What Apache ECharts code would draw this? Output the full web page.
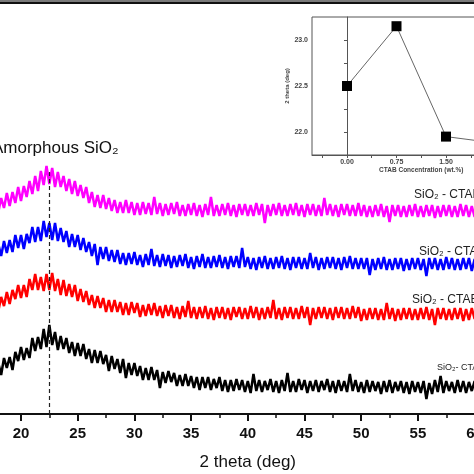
<!DOCTYPE html>
<html><head><meta charset="utf-8">
<script src="https://cdn.jsdelivr.net/npm/echarts@6/dist/echarts.min.js"></script>
<style>html,body{margin:0;padding:0;background:#fff}#c{width:474px;height:474px}</style>
</head><body><div id="c"></div>
<script>
// 2-theta sampling of the XRD traces (degrees)
const thetaStart = 18, thetaStep = 0.25;
// Intensities (arbitrary units, stacked offsets as in the figure)
const blackTrace = [51,39,56,46,57,44,62,53, 67,54,66,56,76,63,77,65, 85,67,89,69,82,64,78,65, 76,61,72,58,71,58,70,55, 65,51,64,51,63,50,59,43, 58,45,55,41,55,36,51,39, 51,38,48,34,46,34,47,34, 44,26,42,31,43,32,41,28, 39,28,40,28,38,26,37,24, 37,26,37,24,35,26,37,23, 34,22,34,23,35,24,34,22, 33,21,40,23,34,22,33,24, 35,22,33,21,34,23,41,22, 33,22,35,24,34,21,33,23, 34,22,33,24,35,22,33,21, 34,23,33,22,40,23,34,22, 32,21,34,22,33,23,32,20, 33,22,34,21,32,23,33,21, 32,20,33,22,32,21,33,15, 31,20,34,22,38,21,33,23, 32,21,34,22,33,21,32,23, 33,21,32,22,33];
const redTrace = [103,117,108,122,110,124,115,129, 116,129,117,135,124,140,124,137, 123,140,124,141,123,135,119,134, 118,130,117,129,113,125,112,123, 109,119,106,118,106,116,102,114, 102,114,102,112,99,111,99,112, 101,111,97,109,98,110,99,111, 98,108,96,109,98,109,96,107, 95,108,97,113,96,107,95,107, 96,108,95,106,94,107,96,107, 95,106,94,107,97,107,95,106, 95,108,96,107,94,106,95,107, 96,114,95,106,94,107,96,107, 95,106,95,108,96,107,89,106, 95,107,96,107,95,106,94,107, 96,107,95,106,95,108,96,107, 93,105,94,106,95,106,94,105, 94,111,95,106,93,105,94,106, 95,106,94,105,94,106,95,107, 94,105,89,106,95,106,94,105, 94,106,95,106,93,105,94,106, 95,106,94,105,94];
const blueTrace = [170,158,173,161,174,162,179,166, 179,165,180,171,187,172,187,173, 193,177,191,174,191,173,186,172, 183,167,180,167,179,164,176,162, 172,158,170,149,167,155,167,153, 164,152,164,150,161,149,161,150, 162,149,159,147,160,149,165,148, 159,147,160,148,159,146,158,147, 159,148,160,146,157,145,158,147, 160,146,157,146,158,147,159,146, 157,145,158,147,158,146,166,147, 157,145,156,144,157,146,158,145, 156,145,157,146,158,145,156,144, 157,146,157,145,156,145,161,146, 157,144,156,145,157,146,157,145, 156,144,157,146,158,145,156,145, 156,145,156,139,155,144,156,145, 157,144,155,144,156,145,156,143, 155,144,156,145,156,144,155,138, 156,145,156,144,155,144,157,145, 156,144,155,144,156,145,156,143, 155,144,156,145,156];
const magentaTrace = [202,216,206,221,208,222,211,227, 213,228,217,233,220,238,223,243, 229,248,230,246,227,242,227,238, 223,235,220,233,218,229,216,227, 211,222,207,219,206,219,205,216, 203,214,201,212,201,214,201,212, 199,211,199,212,200,211,199,217, 200,211,198,210,199,211,200,212, 198,209,198,210,199,211,198,209, 197,210,199,217,198,209,198,210, 199,211,198,209,197,210,199,210, 198,209,198,211,199,210,191,209, 198,210,199,211,198,209,198,210, 199,211,198,209,197,210,199,210, 198,209,198,216,199,210,198,209, 197,210,199,210,198,209,198,211, 198,209,197,208,197,209,198,210, 197,208,192,209,198,209,197,208, 197,209,198,210,197,208,197,209, 198,209,196,208,197,209,198,209, 197,208,197,210,198,209,197,208, 197,209,198,209,197];
const peakTheta = 22.5, dashTop = 242;
// Inset
const ctabConc = [0, 0.75, 1.5, 2.25];
const peakPos = [22.5, 23.15, 21.95, 21.88];
const insetXLabels = [0, 0.75, 1.5, 2.25];
const insetXTicks = [-0.375, 0, 0.375, 0.75, 1.125, 1.5, 1.875, 2.25, 2.625];
const insetYLabels = [22.0, 22.5, 23.0];
const insetYTicks = [22.0, 22.25, 22.5, 22.75, 23.0];

const FF = '"Liberation Sans", Arial, sans-serif';
const pairs = arr => arr.map((v, i) => [thetaStart + i * thetaStep, v]);
const traceSeries = (data, color, extra) => Object.assign({
  type: 'line', xAxisIndex: 0, yAxisIndex: 0, data: pairs(data), showSymbol: false,
  lineStyle: {color, width: 2.5, join: 'miter', miterLimit: 3}, itemStyle: {color}, animation: false, silent: true
}, extra || {});

const chart = echarts.init(document.getElementById('c'), null, {renderer: 'canvas'});
chart.setOption({
  backgroundColor: '#fff',
  animation: false,
  grid: [
    {left: -35.7, width: 567, top: 3, height: 411, show: true, borderColor: '#111', borderWidth: 2, outerBoundsMode: 'none', containLabel: false},
    {left: 312, top: 17, width: 218.5, height: 138, show: true, borderColor: '#555', borderWidth: 1, backgroundColor: '#fff', outerBoundsMode: 'none', containLabel: false}
  ],
  xAxis: [
    {gridIndex: 0, type: 'value', min: 15, max: 65, interval: 5,
     axisLine: {lineStyle: {color: '#111', width: 2}},
     axisTick: {length: 7, lineStyle: {width: 2, color: '#111'}},
     minorTick: {show: true, splitNumber: 2, length: 4, lineStyle: {width: 1.5, color: '#111'}},
     axisLabel: {fontSize: 15, fontWeight: 'bold', color: '#111', margin: 12, fontFamily: FF},
     splitLine: {show: false},
     name: '2 theta (deg)', nameLocation: 'middle', nameGap: 40,
     nameTextStyle: {fontSize: 17, color: '#111', fontFamily: FF}},
    {gridIndex: 1, type: 'value', min: -0.53, max: 2.78,
     axisLine: {lineStyle: {color: '#555', width: 1}},
     axisTick: {customValues: insetXTicks, length: 3, lineStyle: {color: '#555'}},
     axisLabel: {customValues: insetXLabels, formatter: v => v.toFixed(2), fontSize: 7, fontWeight: 'bold', color: '#444', margin: 4, fontFamily: FF},
     splitLine: {show: false},
     name: 'CTAB Concentration (wt.%)', nameLocation: 'middle', nameGap: 12,
     nameTextStyle: {fontSize: 6.5, fontWeight: 'bold', color: '#444', fontFamily: FF}}
  ],
  yAxis: [
    {gridIndex: 0, type: 'value', min: 0, max: 411, show: false},
    {gridIndex: 1, type: 'value', min: 21.75, max: 23.25,
     axisLine: {show: true, lineStyle: {color: '#555', width: 1}},
     axisTick: {show: true, customValues: insetYTicks, length: 3, lineStyle: {color: '#555'}},
     axisLabel: {customValues: insetYLabels, formatter: v => v.toFixed(1), fontSize: 7, fontWeight: 'bold', color: '#444', margin: 4, fontFamily: FF},
     splitLine: {show: false},
     name: '2 theta (deg)', nameLocation: 'middle', nameGap: 20, nameRotate: 90,
     nameTextStyle: {fontSize: 6, fontWeight: 'bold', color: '#444', fontFamily: FF}}
  ],
  series: [
    traceSeries(magentaTrace, '#ff00ff'),
    traceSeries(blueTrace, '#0000ff'),
    traceSeries(redTrace, '#ff0000'),
    traceSeries(blackTrace, '#000000', {
      markLine: {silent: true, symbol: ['none', 'none'], label: {show: false},
        lineStyle: {type: [4, 3], color: '#222', width: 1.2},
        data: [[{coord: [peakTheta, 0]}, {coord: [peakTheta, dashTop]}]]}
    }),
    {type: 'line', xAxisIndex: 1, yAxisIndex: 1, data: ctabConc.map((c, i) => [c, peakPos[i]]),
     symbol: 'rect', symbolSize: 10, itemStyle: {color: '#000'},
     lineStyle: {color: '#666', width: 1}, animation: false}
  ],
  graphic: [
    {type: 'rect', shape: {x: 0, y: 0, width: 474, height: 2}, style: {fill: '#7a7a7a'}},
    {type: 'text', x: -8, y: 148, style: {text: 'Amorphous SiO₂', font: '17px ' + FF, fill: '#111', verticalAlign: 'middle'}},
    {type: 'text', x: 414, y: 195, style: {text: 'SiO₂ - CTAB 2.25 wt.%', font: '12px ' + FF, fill: '#222', verticalAlign: 'middle'}},
    {type: 'text', x: 419, y: 252, style: {text: 'SiO₂ - CTAB 1.50 wt.%', font: '12px ' + FF, fill: '#222', verticalAlign: 'middle'}},
    {type: 'text', x: 412, y: 300, style: {text: 'SiO₂ - CTAB 0.75 wt.%', font: '12px ' + FF, fill: '#222', verticalAlign: 'middle'}},
    {type: 'text', x: 437, y: 368, style: {text: 'SiO₂- CTAB 0.00 wt.%', font: '9px ' + FF, fill: '#222', verticalAlign: 'middle'}}
  ]
});
</script>
</body></html>
